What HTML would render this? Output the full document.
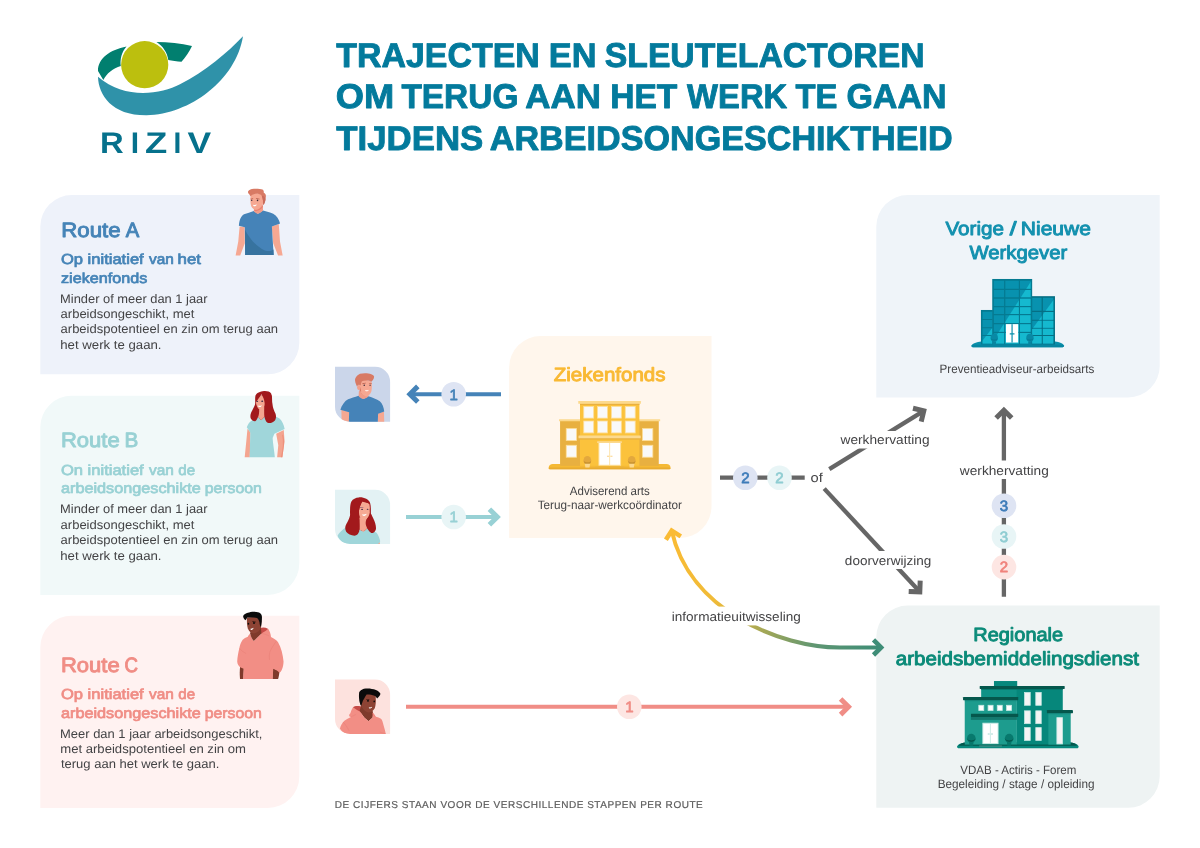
<!DOCTYPE html>
<html lang="nl">
<head>
<meta charset="utf-8">
<title>Trajecten en sleutelactoren om terug aan het werk te gaan tijdens arbeidsongeschiktheid</title>
<style>
html,body{margin:0;padding:0;background:#fff;}
body{width:1200px;height:848px;overflow:hidden;}
svg{display:block;font-family:'Liberation Sans',sans-serif;will-change:transform;text-rendering:geometricPrecision;}
text{white-space:pre;}
</style>
</head>
<body>
<svg width="1200" height="848" viewBox="0 0 1200 848">
<rect width="1200" height="848" fill="#ffffff"/>
<!-- logo -->
<g id="logo">
<path d="M98,76.7 C98.5,95 112,115.5 146.5,115.3 C190,114.5 236,80 243,36.3 C228,52 205,72 180,84.2 C160,94.5 124,99.5 98,76.7 Z" fill="#2f92a9"/>
<path d="M98,71 C98,58 110,50 126.5,46.5 C121.5,52 119.8,60 120.8,66 C113,68.5 106.5,73.5 103.3,80 Z" fill="#017f6f"/>
<path d="M156.5,42 C168,42 181,43.3 192,46 C189,52 185.5,57.5 181.5,61.8 C177,61.5 172,60.7 168.3,60 C167.5,53 163,46 156.5,42 Z" fill="#017f6f"/>
<circle cx="144.7" cy="64.7" r="23.6" fill="#bcbf0e"/>
</g>

<text y="153" font-size="29.8" font-weight="bold" fill="#06718c"><tspan x="99.97" textLength="23.7" lengthAdjust="spacingAndGlyphs">R</tspan><tspan x="130.75" textLength="8.33" lengthAdjust="spacingAndGlyphs">I</tspan><tspan x="145.09" textLength="22.25" lengthAdjust="spacingAndGlyphs">Z</tspan><tspan x="173.38" textLength="7.78" lengthAdjust="spacingAndGlyphs">I</tspan><tspan x="187.52" textLength="23.65" lengthAdjust="spacingAndGlyphs">V</tspan></text>
<g font-weight="bold" fill="#037a9c" stroke="#037a9c" stroke-width="0.9" stroke-linejoin="round">
<text y="67" font-size="34.3"><tspan x="336.21" textLength="203.62" lengthAdjust="spacingAndGlyphs">TRAJECTEN</tspan> <tspan x="548.72" textLength="47.74" lengthAdjust="spacingAndGlyphs">EN</tspan> <tspan x="604.81" textLength="319.71" lengthAdjust="spacingAndGlyphs">SLEUTELACTOREN</tspan></text>
<text y="108" font-size="34.3"><tspan x="335.7" textLength="58.44" lengthAdjust="spacingAndGlyphs">OM</tspan> <tspan x="401.42" textLength="116.97" lengthAdjust="spacingAndGlyphs">TERUG</tspan> <tspan x="525.25" textLength="75.64" lengthAdjust="spacingAndGlyphs">AAN</tspan> <tspan x="610.17" textLength="67.18" lengthAdjust="spacingAndGlyphs">HET</tspan> <tspan x="687.05" textLength="100.24" lengthAdjust="spacingAndGlyphs">WERK</tspan> <tspan x="795.52" textLength="41.94" lengthAdjust="spacingAndGlyphs">TE</tspan> <tspan x="846.39" textLength="100.15" lengthAdjust="spacingAndGlyphs">GAAN</tspan></text>
<text y="150" font-size="34.3"><tspan x="336.2" textLength="147.14" lengthAdjust="spacingAndGlyphs">TIJDENS</tspan> <tspan x="489.77" textLength="462.85" lengthAdjust="spacingAndGlyphs">ARBEIDSONGESCHIKTHEID</tspan></text>
</g>
<!-- route cards -->
<path d="M71.8,195 H299.3 V342.8 A31.5,31.5 0 0 1 267.8,374.3 H40.3 V226.5 A31.5,31.5 0 0 1 71.8,195 Z" fill="#eef2fa"/>
<path d="M71.8,395.7 H299.3 V563.5 A31.5,31.5 0 0 1 267.8,595 H40.3 V427.2 A31.5,31.5 0 0 1 71.8,395.7 Z" fill="#f1f9f9"/>
<path d="M71.8,615.7 H299.3 V776.5 A31.5,31.5 0 0 1 267.8,808 H40.3 V647.2 A31.5,31.5 0 0 1 71.8,615.7 Z" fill="#fff2f1"/>
<g fill="#4584b7" stroke="#4584b7" stroke-width="0.95" stroke-linejoin="round" stroke-linecap="round"><text y="237" font-size="20.7"><tspan x="61.3" textLength="59.34" lengthAdjust="spacingAndGlyphs">Route</tspan> <tspan x="125.67" textLength="13.49" lengthAdjust="spacingAndGlyphs">A</tspan></text></g>
<g fill="#4584b7" stroke="#4584b7" stroke-width="0.7" stroke-linejoin="round" stroke-linecap="round"><text y="264" font-size="14.5"><tspan x="60.91" textLength="82.81" lengthAdjust="spacingAndGlyphs">Op initiatief</tspan> <tspan x="149.05" textLength="24.84" lengthAdjust="spacingAndGlyphs">van</tspan> <tspan x="177.55" textLength="23.44" lengthAdjust="spacingAndGlyphs">het</tspan></text><text y="283" font-size="14.5"><tspan x="61" textLength="86.21" lengthAdjust="spacingAndGlyphs">ziekenfonds</tspan></text></g>
<g fill="#434345"><text x="60.07" y="303" font-size="12.5" textLength="147.5" lengthAdjust="spacingAndGlyphs">Minder of meer dan 1 jaar</text><text x="60.58" y="318" font-size="12.5" textLength="133.76" lengthAdjust="spacingAndGlyphs">arbeidsongeschikt, met</text><text x="60.58" y="333" font-size="12.5" textLength="217.51" lengthAdjust="spacingAndGlyphs">arbeidspotentieel en zin om terug aan</text><text x="60.24" y="349" font-size="12.5" textLength="101.32" lengthAdjust="spacingAndGlyphs">het werk te gaan.</text></g>
<g fill="#98d1d4" stroke="#98d1d4" stroke-width="0.95" stroke-linejoin="round" stroke-linecap="round"><text y="447" font-size="20.7"><tspan x="60.91" textLength="58.72" lengthAdjust="spacingAndGlyphs">Route</tspan> <tspan x="124.42" textLength="13.78" lengthAdjust="spacingAndGlyphs">B</tspan></text></g>
<g fill="#98d1d4" stroke="#98d1d4" stroke-width="0.7" stroke-linejoin="round" stroke-linecap="round"><text y="475" font-size="14.5"><tspan x="60.91" textLength="82.81" lengthAdjust="spacingAndGlyphs">On initiatief</tspan> <tspan x="149.05" textLength="24.84" lengthAdjust="spacingAndGlyphs">van</tspan> <tspan x="178.24" textLength="16.83" lengthAdjust="spacingAndGlyphs">de</tspan></text><text y="493" font-size="14.5"><tspan x="61" textLength="139.82" lengthAdjust="spacingAndGlyphs">arbeidsongeschikte</tspan> <tspan x="204.7" textLength="57.22" lengthAdjust="spacingAndGlyphs">persoon</tspan></text></g>
<g fill="#434345"><text x="60.07" y="513" font-size="12.5" textLength="147.5" lengthAdjust="spacingAndGlyphs">Minder of meer dan 1 jaar</text><text x="60.58" y="529" font-size="12.5" textLength="133.76" lengthAdjust="spacingAndGlyphs">arbeidsongeschikt, met</text><text x="60.58" y="544" font-size="12.5" textLength="217.51" lengthAdjust="spacingAndGlyphs">arbeidspotentieel en zin om terug aan</text><text x="60.24" y="560" font-size="12.5" textLength="101.32" lengthAdjust="spacingAndGlyphs">het werk te gaan.</text></g>
<g fill="#f08d85" stroke="#f08d85" stroke-width="0.95" stroke-linejoin="round" stroke-linecap="round"><text y="672" font-size="20.7"><tspan x="60.91" textLength="58.72" lengthAdjust="spacingAndGlyphs">Route</tspan> <tspan x="124.54" textLength="13.48" lengthAdjust="spacingAndGlyphs">C</tspan></text></g>
<g fill="#f08d85" stroke="#f08d85" stroke-width="0.7" stroke-linejoin="round" stroke-linecap="round"><text y="699" font-size="14.5"><tspan x="60.91" textLength="82.81" lengthAdjust="spacingAndGlyphs">Op initiatief</tspan> <tspan x="149.05" textLength="24.84" lengthAdjust="spacingAndGlyphs">van</tspan> <tspan x="178.24" textLength="16.83" lengthAdjust="spacingAndGlyphs">de</tspan></text><text y="718" font-size="14.5"><tspan x="61" textLength="139.82" lengthAdjust="spacingAndGlyphs">arbeidsongeschikte</tspan> <tspan x="204.7" textLength="57.22" lengthAdjust="spacingAndGlyphs">persoon</tspan></text></g>
<g fill="#434345"><text x="60.06" y="738" font-size="12.5" textLength="202.37" lengthAdjust="spacingAndGlyphs">Meer dan 1 jaar arbeidsongeschikt,</text><text x="60.25" y="753" font-size="12.5" textLength="185.68" lengthAdjust="spacingAndGlyphs">met arbeidspotentieel en zin om</text><text x="60.9" y="768" font-size="12.5" textLength="158.44" lengthAdjust="spacingAndGlyphs">terug aan het werk te gaan.</text></g>
<!-- persons -->
<g id="personA" transform="translate(225,185) scale(0.08844)">
<path d="M165,468 L222,476 L224,660 L172,797 L120,797 L150,640 Z" fill="#f6a892"/>
<path d="M528,468 L608,440 L622,640 L652,797 L600,797 L545,660 Z" fill="#f6a892"/>
<path d="M325,293 C290,305 250,318 215,332 C180,350 162,400 157,462 L224,478 L228,792 L550,792 L530,470 L623,436 C610,385 585,345 545,325 C510,310 470,300 430,288 L372,325 Z" fill="#4583b8"/>
<path d="M226,505 C280,610 360,700 450,740 C500,755 530,745 548,730 L550,792 L228,792 Z" fill="#37739f"/>
<path d="M330,262 L325,293 C340,312 355,322 372,325 C395,318 415,303 430,288 L428,215 Z" fill="#f09c88"/>
<path d="M335,272 C360,290 385,280 428,228 L428,250 C400,285 370,300 330,290 Z" fill="#e9806f"/>
<path d="M290,118 C285,150 286,185 290,215 C295,250 315,275 340,280 C375,282 405,250 425,215 C440,200 445,180 436,168 L425,110 L340,90 Z" fill="#f6a892"/>
<path d="M262,70 C275,55 290,48 305,46 C345,40 395,42 430,55 C440,70 440,80 438,88 C455,95 465,110 462,130 C460,160 452,200 436,226 C430,215 428,195 430,178 C425,160 422,140 415,120 C400,105 380,100 355,100 C330,100 310,108 288,128 C282,115 275,105 268,100 C260,92 258,80 262,70 Z" fill="#d87a64"/>
<path d="M415,120 C440,125 455,140 458,165 C455,190 448,210 436,226 C430,215 428,195 430,178 C428,160 422,140 415,120 Z" fill="#c96b5b"/>
<ellipse cx="302" cy="173" rx="8" ry="9" fill="#3a2a35"/>
<ellipse cx="368" cy="173" rx="9" ry="10" fill="#3a2a35"/>
<path d="M288,155 L318,150 L318,157 L290,162 Z" fill="#b9604f"/>
<path d="M350,148 L392,156 L390,164 L350,156 Z" fill="#b9604f"/>
<path d="M316,222 C330,226 345,226 360,220 C355,238 335,245 322,238 Z" fill="#ffffff"/>
</g>

<g id="personB" transform="translate(230,385) scale(0.08844)">
<path d="M198,495 L232,535 L224,817 L166,817 L184,640 Z" fill="#f4a590"/>
<path d="M522,552 L608,508 L617,640 L592,817 L533,817 L546,680 Z" fill="#f4a590"/>
<path d="M600,560 C612,600 615,640 610,680 L592,817 L575,817 C600,720 605,640 590,565 Z" fill="#ee917c"/>
<path d="M300,120 L470,120 L490,400 L260,400 Z" fill="#a2191c"/>
<path d="M318,360 C280,385 240,400 222,420 C205,440 195,460 190,478 L230,540 L222,817 L507,817 C500,740 485,660 482,600 L502,550 L618,498 C608,450 590,405 560,380 C540,365 515,355 500,350 L400,350 L352,398 Z" fill="#a0d6da"/>
<path d="M328,280 L318,360 L352,398 L395,352 L390,250 Z" fill="#f4a590"/>
<path d="M295,125 C288,160 288,200 296,235 C305,265 325,285 348,285 C375,280 395,250 400,200 L395,120 Z" fill="#f4a590"/>
<path d="M385,68 C340,72 300,90 288,120 C282,150 285,180 288,205 C280,230 268,255 250,290 C232,320 225,350 235,380 C245,400 265,412 285,410 C300,400 312,380 320,350 C330,320 332,295 328,275 C305,255 295,225 294,195 C310,170 335,140 355,105 C375,130 390,170 392,210 C390,260 385,300 388,345 C392,385 405,415 425,428 C450,435 480,430 505,405 C520,385 525,355 515,325 C500,290 480,250 477,200 C475,160 478,120 465,95 C450,75 420,66 385,68 Z" fill="#a2191c"/>
<ellipse cx="308" cy="185" rx="10" ry="7" fill="#3a2a45"/>
<ellipse cx="364" cy="183" rx="11" ry="8" fill="#3a2a45"/>
<path d="M315,232 C330,236 345,235 360,228 C355,248 335,252 322,246 Z" fill="#ffffff"/>
</g>

<g id="personC" transform="translate(225,605) scale(0.08844)">
<path d="M172,690 L215,700 L208,837 L170,837 C165,790 165,740 172,690 Z" fill="#7f3a2b"/>
<path d="M540,712 L615,745 C615,780 608,810 600,837 L535,837 Z" fill="#7f3a2b"/>
<path d="M398,262 C420,252 455,252 485,268 L500,330 L410,330 Z" fill="#c54a47"/>
<path d="M285,320 C270,340 262,350 258,360 C235,370 215,380 200,392 C180,420 168,455 162,490 C150,540 140,590 138,640 C140,670 155,695 178,708 L210,720 L205,837 L540,837 L545,720 C570,728 595,742 614,765 C640,760 660,700 662,640 C655,560 635,480 600,420 C585,400 555,380 520,362 C518,330 505,290 487,268 C470,285 440,305 412,322 L325,408 C305,385 290,355 285,320 Z" fill="#f28e85"/>
<path d="M165,490 C185,515 210,535 238,548 M580,410 C550,450 525,490 508,530 C500,560 500,590 503,620 M412,322 C440,325 470,335 500,350" fill="none" stroke="#e67a72" stroke-width="5"/>
<path d="M288,305 L285,320 C290,355 305,385 325,408 L412,322 L405,240 Z" fill="#7f3a2b"/>
<path d="M250,140 C245,180 248,230 258,265 C268,295 295,318 325,322 C360,318 395,295 408,255 L412,180 L370,130 Z" fill="#8d4334"/>
<path d="M205,125 C215,105 235,95 258,88 C290,75 340,70 385,85 C405,95 418,110 418,135 C418,170 415,215 405,250 C398,240 392,220 390,195 C385,175 375,160 362,148 C330,140 290,138 252,142 C245,155 238,168 230,172 C215,160 205,145 205,125 Z" fill="#0b0b0b"/>
<ellipse cx="265" cy="212" rx="9" ry="11" fill="#0b0b0b"/>
<ellipse cx="328" cy="203" rx="11" ry="11" fill="#0b0b0b"/>
<path d="M310,180 L350,190 L348,198 L308,188 Z" fill="#3a1a14"/>
<path d="M288,268 C300,268 312,264 322,258 C322,275 305,288 292,282 Z" fill="#ffffff"/>
</g>

<!-- avatar tiles -->
<clipPath id="clipA"><path d="M335,366.8 H375.1 A15,15 0 0 1 390.1,381.8 V421.7 H350 A15,15 0 0 1 335,406.7 Z"/></clipPath><path d="M335,366.8 H375.1 A15,15 0 0 1 390.1,381.8 V421.7 H350 A15,15 0 0 1 335,406.7 Z" fill="#cbd6ea"/>
<g clip-path="url(#clipA)"><g id="avatarA" transform="translate(330,360) scale(0.07783)">
<path d="M146,640 L246,668 L243,800 L150,800 Z" fill="#f6a892"/>
<path d="M616,688 L693,662 L697,800 L614,800 Z" fill="#f6a892"/>
<path d="M366,460 C320,478 270,490 232,505 C185,530 150,585 133,640 L246,672 L242,800 L614,800 L618,692 L697,662 C690,610 675,560 640,530 C600,500 545,485 494,466 L430,500 Z" fill="#4583b8"/>
<path d="M372,395 L368,462 C385,485 405,498 430,500 C455,495 478,482 494,466 L485,440 Z" fill="#f09c88"/>
<path d="M395,420 C420,450 450,470 490,462 L486,440 C450,450 420,440 400,410 Z" fill="#e9806f"/>
<path d="M385,275 C378,300 362,320 362,345 C362,370 372,385 385,392 C400,430 430,465 465,468 C495,465 520,435 532,400 C540,360 540,320 534,280 L450,250 Z" fill="#f6a892"/>
<ellipse cx="368" cy="352" rx="20" ry="32" fill="#f3a08b"/>
<path d="M322,245 C335,215 355,190 385,178 C430,165 490,168 530,182 C550,188 565,200 567,215 C565,240 550,262 530,278 C515,268 495,262 470,262 C445,262 425,265 410,272 C402,288 396,308 394,328 C388,318 378,315 368,318 C358,322 350,330 346,340 C332,310 318,275 322,245 Z" fill="#d87a64"/>
<path d="M380,395 C385,385 390,365 392,345 L400,410 Z" fill="#d87a64"/>
<ellipse cx="440" cy="325" rx="10" ry="9" fill="#3a2a35"/>
<ellipse cx="515" cy="325" rx="8" ry="9" fill="#3a2a35"/>
<path d="M415,300 L460,292 L462,300 L418,310 Z" fill="#b9604f"/>
<path d="M500,295 L535,300 L535,308 L500,303 Z" fill="#b9604f"/>
<path d="M450,385 C465,390 482,390 498,382 C495,400 470,408 456,398 Z" fill="#ffffff"/>
</g></g>

<clipPath id="clipB"><path d="M335,489.8 H375.1 A15,15 0 0 1 390.1,504.8 V544 H350 A15,15 0 0 1 335,529 Z"/></clipPath><path d="M335,489.8 H375.1 A15,15 0 0 1 390.1,504.8 V544 H350 A15,15 0 0 1 335,529 Z" fill="#e3f2f4"/>
<g clip-path="url(#clipB)"><g id="avatarB" transform="translate(330,484) scale(0.07783)">
<path d="M300,220 L500,220 L560,600 L230,620 Z" fill="#a2191c"/>
<path d="M200,560 C160,590 120,625 98,662 C105,700 140,745 200,772 L632,772 L645,735 C640,700 622,655 598,625 L480,570 L430,612 L378,585 Z" fill="#a0d6da"/>
<path d="M615,772 L640,750 L640,772 Z" fill="#f4a590"/>
<path d="M376,430 L378,585 L430,612 L480,570 L470,430 Z" fill="#f4a590"/>
<path d="M410,225 C390,270 375,310 372,350 C370,400 385,440 410,458 C430,470 455,462 475,445 C500,420 512,380 514,340 C516,300 512,270 505,250 Z" fill="#f6a993"/>
<path d="M370,172 C330,175 295,190 275,225 C258,260 256,320 258,400 C250,440 230,480 210,515 C192,545 190,580 208,612 C230,640 270,660 315,665 C345,662 365,640 375,610 C382,570 380,520 378,460 C372,420 370,380 372,345 C378,300 395,260 418,222 C450,225 480,240 505,258 C512,280 514,300 510,325 C508,345 512,365 522,385 C510,410 495,435 472,450 C458,470 455,500 462,530 C475,570 495,605 530,630 C555,632 580,615 590,580 C595,540 580,490 555,440 C540,405 528,385 522,365 C528,320 525,275 515,240 C495,200 440,168 370,172 Z" fill="#a2191c"/>
<ellipse cx="412" cy="325" rx="13" ry="8" fill="#3a2a45"/>
<ellipse cx="483" cy="325" rx="11" ry="7" fill="#3a2a45"/>
<path d="M385,300 L430,298 L430,306 L386,308 Z" fill="#5b3a6b" opacity="0.7"/>
<path d="M410,388 C430,394 450,392 470,382 C468,405 440,418 420,405 Z" fill="#ffffff"/>
</g></g>

<clipPath id="clipC"><path d="M335,679.5 H375.1 A15,15 0 0 1 390.1,694.5 V733.9 H350 A15,15 0 0 1 335,718.9 Z"/></clipPath><path d="M335,679.5 H375.1 A15,15 0 0 1 390.1,694.5 V733.9 H350 A15,15 0 0 1 335,718.9 Z" fill="#fde2de"/>
<g clip-path="url(#clipC)"><g id="avatarC" transform="translate(330,674) scale(0.07783)">
<path d="M295,428 C315,412 350,406 400,418 L420,500 L320,490 Z" fill="#c54a47"/>
<path d="M515,480 L550,495 L570,545 L520,540 Z" fill="#c54a47"/>
<path d="M400,400 L380,480 L440,560 L495,608 L548,560 L550,480 Z" fill="#7f3a2b"/>
<path d="M296,426 C280,450 268,480 262,505 C250,515 245,525 246,535 C250,545 258,550 270,552 C240,565 210,580 185,600 C155,630 135,665 128,700 C140,730 175,758 225,775 L718,775 C712,740 700,700 688,660 C680,620 670,590 655,575 C635,562 612,555 590,550 C580,530 565,510 548,497 L548,560 L495,608 L440,560 L385,482 C360,468 325,450 296,426 Z" fill="#f28e85"/>
<path d="M270,552 C290,540 310,530 335,520 M170,620 C200,650 225,690 245,730 M640,745 C665,755 690,762 715,768 M548,505 C560,520 572,535 580,550" fill="none" stroke="#e67a72" stroke-width="5"/>
<path d="M440,235 C420,290 400,320 392,350 C388,380 392,400 400,412 C420,450 450,482 490,495 C525,495 555,475 575,440 C588,400 592,350 588,310 L585,240 Z" fill="#8d4334"/>
<path d="M375,235 C385,215 405,200 435,190 C480,180 540,185 590,205 C620,218 640,235 648,255 C645,275 630,295 605,315 C598,300 588,288 572,280 C540,268 500,262 470,264 C458,280 448,298 440,315 C428,330 418,350 412,375 C408,390 404,400 400,408 C388,390 380,365 376,340 C372,305 370,265 375,235 Z" fill="#0b0b0b"/>
<ellipse cx="488" cy="345" rx="13" ry="12" fill="#0b0b0b"/>
<ellipse cx="568" cy="352" rx="10" ry="12" fill="#0b0b0b"/>
<path d="M462,320 L505,325 L505,333 L462,328 Z" fill="#3a1a14"/>
<path d="M498,428 C512,432 526,430 540,422 C540,440 520,448 505,442 Z" fill="#ffffff"/>
</g></g>

<!-- actor cards -->
<path d="M540.6,336.1 H711.5 V506.5 A31.5,31.5 0 0 1 680,538 H509.1 V367.6 A31.5,31.5 0 0 1 540.6,336.1 Z" fill="#fff6ec"/>
<path d="M907.8,195.1 H1159.7 V366 A31.5,31.5 0 0 1 1128.2,397.5 H876.3 V226.6 A31.5,31.5 0 0 1 907.8,195.1 Z" fill="#eff4f9"/>
<path d="M907.8,605.5 H1159.7 V776.3 A31.5,31.5 0 0 1 1128.2,807.8 H876.3 V637 A31.5,31.5 0 0 1 907.8,605.5 Z" fill="#eef3f3"/>
<!-- arrows -->
<defs><linearGradient id="gInfo" gradientUnits="userSpaceOnUse" x1="672" y1="528" x2="884" y2="647"><stop offset="0" stop-color="#fabb34"/><stop offset="0.3" stop-color="#f0bb38"/><stop offset="0.75" stop-color="#5f9672"/><stop offset="1" stop-color="#3b8c76"/></linearGradient></defs>
<g fill="none" stroke-width="4">
<path d="M501,394.2 H409.9" stroke="#4583b8"/><path d="M417.8,402.0 L409.9,394.2 L417.8,386.4" stroke="#4583b8" stroke-width="5" stroke-miterlimit="10"/>
<path d="M406,517 H497.3" stroke="#98d1d5"/><path d="M489.4,509.2 L497.3,517.0 L489.4,524.8" stroke="#98d1d5" stroke-width="5" stroke-miterlimit="10"/>
<path d="M406,706.8 H848.5" stroke="#f08d86"/><path d="M840.6,699.0 L848.5,706.8 L840.6,714.6" stroke="#f08d86" stroke-width="5" stroke-miterlimit="10"/>
<path d="M720,477.7 H804.7" stroke="#666666" stroke-width="4.3"/>
<path d="M829.3,469.1 L923.8,410.9" stroke="#666666" stroke-width="4.3"/><path d="M913.0,408.3 L923.8,410.9 L921.2,421.7" stroke="#666666" stroke-width="5" stroke-miterlimit="10"/>
<path d="M824.2,488.6 L919.8,591.8" stroke="#666666" stroke-width="4.3"/><path d="M920.2,580.7 L919.8,591.8 L908.7,591.4" stroke="#666666" stroke-width="5" stroke-miterlimit="10"/>
<path d="M1003.9,596.7 V410.2" stroke="#666666" stroke-width="4.3"/><path d="M996.1,418.1 L1003.9,410.2 L1011.7,418.1" stroke="#666666" stroke-width="5" stroke-miterlimit="10"/>
<path d="M671.7,530.6 C689.2,610.7 780.3,647.4 840,647.5 L881,647.4" stroke="url(#gInfo)"/><path d="M665.9,539.7 L671.7,530.6 L680.8,536.4" stroke="#fabb34" stroke-width="4.6" stroke-miterlimit="10"/>
<path d="M873.5,639.8 L881.1,647.4 L873.5,655.0" stroke="#3e8d77" stroke-width="4.6" stroke-miterlimit="10"/>
</g>
<g fill="#ffffff">
<rect x="838" y="431" width="93" height="17.5"/>
<rect x="843" y="551" width="90" height="18"/>
<rect x="957" y="460.5" width="94" height="18.5"/>
<rect x="669.5" y="606.6" width="133" height="18.8"/>
</g>

<circle cx="453.7" cy="394.2" r="12.3" fill="#dee4f3"/><text x="453.7" y="400" font-size="15" text-anchor="middle" fill="#4583b8" stroke="#4583b8" stroke-width="0.75" stroke-linejoin="round">1</text>
<circle cx="453.7" cy="517" r="12.3" fill="#e8f5f6"/><text x="453.7" y="522" font-size="15" text-anchor="middle" fill="#98d1d5" stroke="#98d1d5" stroke-width="0.75" stroke-linejoin="round">1</text>
<circle cx="629.3" cy="706.8" r="12.3" fill="#fde6e3"/><text x="629.3" y="712" font-size="15" text-anchor="middle" fill="#f08d86" stroke="#f08d86" stroke-width="0.75" stroke-linejoin="round">1</text>
<circle cx="745.3" cy="477.7" r="12.3" fill="#dee4f3"/><text x="745.3" y="483" font-size="15" text-anchor="middle" fill="#3e7cb9" stroke="#3e7cb9" stroke-width="0.75" stroke-linejoin="round">2</text>
<circle cx="779.5" cy="477.7" r="12.3" fill="#e8f5f6"/><text x="779.5" y="483" font-size="15" text-anchor="middle" fill="#8fcdd2" stroke="#8fcdd2" stroke-width="0.75" stroke-linejoin="round">2</text>
<circle cx="1004" cy="505.8" r="12.3" fill="#dee4f3"/><text x="1004" y="511" font-size="15" text-anchor="middle" fill="#3e7cb9" stroke="#3e7cb9" stroke-width="0.75" stroke-linejoin="round">3</text>
<circle cx="1004" cy="536.5" r="12.3" fill="#e8f5f6"/><text x="1004" y="542" font-size="15" text-anchor="middle" fill="#8fcdd2" stroke="#8fcdd2" stroke-width="0.75" stroke-linejoin="round">3</text>
<circle cx="1004" cy="567.1" r="12.3" fill="#fde6e3"/><text x="1004" y="572" font-size="15" text-anchor="middle" fill="#f0837c" stroke="#f0837c" stroke-width="0.75" stroke-linejoin="round">2</text>
<!-- labels -->
<g fill="#434345"><text x="810.61" y="482" font-size="12.9" textLength="12.26" lengthAdjust="spacingAndGlyphs">of</text><text x="840.57" y="444" font-size="12.9" textLength="88.97" lengthAdjust="spacingAndGlyphs">werkhervatting</text><text x="844.86" y="565" font-size="12.9" textLength="86.47" lengthAdjust="spacingAndGlyphs">doorverwijzing</text><text x="959.87" y="475" font-size="12.9" textLength="88.97" lengthAdjust="spacingAndGlyphs">werkhervatting</text><text x="671.72" y="621" font-size="12.9" textLength="129.11" lengthAdjust="spacingAndGlyphs">informatieuitwisseling</text></g>
<g fill="#f9b934" stroke="#f9b934" stroke-width="0.95" stroke-linejoin="round" stroke-linecap="round"><text x="553.76" y="381" font-size="19.1" textLength="111.78" lengthAdjust="spacingAndGlyphs">Ziekenfonds</text></g>
<g fill="#1491af" stroke="#1491af" stroke-width="0.95" stroke-linejoin="round" stroke-linecap="round"><text y="235" font-size="19.1"><tspan x="945.48" textLength="58.6" lengthAdjust="spacingAndGlyphs">Vorige</tspan> <tspan x="1009.88" textLength="6.8" lengthAdjust="spacingAndGlyphs">/</tspan> <tspan x="1020.79" textLength="70.1" lengthAdjust="spacingAndGlyphs">Nieuwe</tspan></text><text x="969.48" y="259" font-size="19.1" textLength="97.81" lengthAdjust="spacingAndGlyphs">Werkgever</text></g>
<g fill="#0c8b79" stroke="#0c8b79" stroke-width="0.95" stroke-linejoin="round" stroke-linecap="round"><text x="973.28" y="641" font-size="19.1" textLength="89.87" lengthAdjust="spacingAndGlyphs">Regionale</text><text x="895.85" y="665" font-size="19.1" textLength="243.03" lengthAdjust="spacingAndGlyphs">arbeidsbemiddelingsdienst</text></g>
<g fill="#434345"><text x="569.8" y="495" font-size="12.1" textLength="80" lengthAdjust="spacingAndGlyphs">Adviserend arts</text><text x="537.67" y="509" font-size="12.1" textLength="144.19" lengthAdjust="spacingAndGlyphs">Terug-naar-werkcoördinator</text><text x="939.57" y="373" font-size="12.1" textLength="154.64" lengthAdjust="spacingAndGlyphs">Preventieadviseur-arbeidsarts</text><text x="960.3" y="774" font-size="12.1" textLength="116.02" lengthAdjust="spacingAndGlyphs">VDAB - Actiris - Forem</text><text x="937.66" y="788" font-size="12.1" textLength="156.86" lengthAdjust="spacingAndGlyphs">Begeleiding / stage / opleiding</text></g>
<!-- buildings -->
<g id="bldgZ" transform="translate(540,395) scale(0.116667)">
<path d="M110,592 H1085 C1105,592 1118,605 1118,620 V628 C1118,633 1114,636 1108,636 H85 C79,636 75,633 75,628 V620 C75,605 90,592 110,592 Z" fill="#f5b935"/>
<rect x="75" y="622" width="1043" height="14" rx="6" fill="#e8ab30"/>
<rect x="172" y="222" width="175" height="385" fill="#e8b040"/>
<rect x="848" y="222" width="170" height="385" fill="#e8b040"/>
<rect x="163" y="207" width="184" height="19" rx="3" fill="#fcd98d"/>
<rect x="848" y="207" width="182" height="19" rx="3" fill="#fcd98d"/>
<rect x="343" y="70" width="509" height="537" fill="#fbc23c"/>
<rect x="343" y="74" width="509" height="12" fill="#e9b040"/>
<rect x="328" y="52" width="537" height="23" rx="3" fill="#fcd98d"/>
<rect x="343" y="368" width="509" height="14" fill="#e9b040"/>
<rect x="330" y="348" width="533" height="23" rx="3" fill="#fcd98d"/>
<g fill="#f9f9f9" stroke="#fddf9c" stroke-width="7">
<rect x="375" y="98" width="85" height="100"/><rect x="493" y="98" width="85" height="100"/><rect x="612" y="98" width="85" height="100"/><rect x="731" y="98" width="85" height="100"/>
<rect x="375" y="223" width="85" height="102"/><rect x="493" y="223" width="85" height="102"/><rect x="612" y="223" width="85" height="102"/><rect x="731" y="223" width="85" height="102"/>
<rect x="225" y="288" width="88" height="102"/><rect x="225" y="431" width="88" height="102"/>
<rect x="879" y="288" width="88" height="102"/><rect x="879" y="431" width="88" height="102"/>
</g>
<rect x="505" y="405" width="186" height="197" fill="#ffffff" stroke="#fddf9c" stroke-width="8"/>
<rect x="489" y="397" width="214" height="14" rx="3" fill="#fcd98d"/>
<rect x="594" y="411" width="7" height="190" fill="#fddf9c"/>
<rect x="574" y="521" width="18" height="7" fill="#fbc96a"/><rect x="603" y="521" width="18" height="7" fill="#fbc96a"/>
<rect x="478" y="612" width="240" height="12" fill="#e9b040" opacity="0.6"/>
<ellipse cx="406" cy="560" rx="33" ry="38" fill="#e3a83d"/>
<path d="M374,565 C380,590 395,598 406,598 C425,598 436,585 439,565 C425,580 395,582 374,565 Z" fill="#c99230"/>
<path d="M383,590 H430 L424,622 H389 Z" fill="#fcd98d"/>
<ellipse cx="786" cy="560" rx="33" ry="38" fill="#e3a83d"/>
<path d="M754,565 C760,590 775,598 786,598 C805,598 816,585 819,565 C805,580 775,582 754,565 Z" fill="#c99230"/>
<path d="M763,590 H810 L804,622 H769 Z" fill="#fcd98d"/>
</g>

<g id="bldgW" transform="translate(963,273) scale(0.09197)">
<path d="M90,792 C100,770 150,750 200,746 H1000 C1050,750 1090,770 1100,792 C1100,800 1095,806 1085,806 H105 C95,806 90,800 90,792 Z" fill="#0a8fab"/>
<rect x="95" y="780" width="1000" height="26" rx="12" fill="#0785a0"/>
<rect x="195" y="402" width="130" height="375" fill="#057a91"/>
<rect x="745" y="252" width="255" height="525" fill="#056f84"/>
<rect x="318" y="65" width="434" height="712" fill="#057a91"/>
<clipPath id="wPanels"><rect x="335" y="82" width="112" height="90"/><rect x="335" y="185" width="112" height="80"/><rect x="335" y="280" width="112" height="78"/><rect x="335" y="372" width="112" height="75"/><rect x="335" y="460" width="112" height="83"/><rect x="335" y="556" width="112" height="84"/><rect x="335" y="652" width="112" height="118"/><rect x="460" y="82" width="147" height="90"/><rect x="460" y="185" width="147" height="80"/><rect x="460" y="280" width="147" height="78"/><rect x="460" y="372" width="147" height="75"/><rect x="460" y="460" width="147" height="83"/><rect x="460" y="556" width="147" height="84"/><rect x="460" y="652" width="147" height="118"/><rect x="620" y="82" width="115" height="90"/><rect x="620" y="185" width="115" height="80"/><rect x="620" y="280" width="115" height="78"/><rect x="620" y="372" width="115" height="75"/><rect x="620" y="460" width="115" height="83"/><rect x="620" y="556" width="115" height="84"/><rect x="620" y="652" width="115" height="118"/><rect x="752" y="270" width="103" height="140"/><rect x="752" y="424" width="103" height="84"/><rect x="752" y="520" width="103" height="75"/><rect x="752" y="606" width="103" height="69"/><rect x="752" y="686" width="103" height="84"/><rect x="868" y="270" width="117" height="140"/><rect x="868" y="424" width="117" height="84"/><rect x="868" y="520" width="117" height="75"/><rect x="868" y="606" width="117" height="69"/><rect x="868" y="686" width="117" height="84"/><rect x="210" y="420" width="108" height="80"/><rect x="210" y="512" width="108" height="78"/><rect x="210" y="600" width="108" height="75"/><rect x="210" y="686" width="108" height="84"/></clipPath>
<g clip-path="url(#wPanels)">
<rect x="190" y="60" width="820" height="720" fill="#0892af"/>
<path d="M740,90 L740,780 L300,780 Z" fill="#15b9cf"/>
<path d="M990,285 L990,780 L745,780 L745,620 Z" fill="#15b9cf"/>
<path d="M320,595 L320,780 L205,780 L205,745 Z" fill="#15b9cf"/>
</g>
<rect x="467" y="556" width="133" height="200" fill="#ffffff"/>
<rect x="527" y="556" width="13" height="200" fill="#0a8fab"/>
<rect x="508" y="656" width="52" height="14" rx="3" fill="#0a8fab"/>
<path d="M320,745 H360 L356,785 H324 Z" fill="#0785a0"/>
<ellipse cx="340" cy="705" rx="40" ry="44" fill="#0989a5"/>
<path d="M300,710 C310,745 370,745 380,710 C360,728 320,728 300,710 Z" fill="#067b94"/>
<path d="M708,745 H748 L744,785 H712 Z" fill="#0785a0"/>
<ellipse cx="728" cy="705" rx="40" ry="44" fill="#0989a5"/>
<path d="M688,710 C698,745 758,745 768,710 C748,728 708,728 688,710 Z" fill="#067b94"/>
</g>

<g id="bldgR" transform="translate(950,674) scale(0.113333)">
<path d="M62,640 C70,620 100,606 135,604 H1065 C1100,606 1128,620 1135,640 C1135,650 1130,656 1120,656 H78 C68,656 62,650 62,640 Z" fill="#07887c"/>
<path d="M75,632 C90,615 110,606 135,604 H1065 C1090,606 1110,615 1124,632 Z" fill="#05574c"/>
<rect x="388" y="62" width="205" height="50" fill="#07887c"/>
<rect x="275" y="128" width="320" height="100" fill="#0f9286"/>
<rect x="588" y="128" width="407" height="495" fill="#06877b"/>
<rect x="262" y="105" width="750" height="27" rx="4" fill="#05574c"/>
<rect x="275" y="132" width="720" height="8" fill="#057266" opacity="0.8"/>
<rect x="130" y="228" width="460" height="395" fill="#1d9c8e"/>
<rect x="115" y="203" width="487" height="29" rx="4" fill="#05574c"/>
<rect x="130" y="232" width="460" height="8" fill="#14857a" opacity="0.8"/>
<g fill="#ffffff" stroke="#c7e9e4" stroke-width="7">
<rect x="254" y="276" width="44" height="46"/><rect x="336" y="276" width="44" height="46"/><rect x="417" y="276" width="44" height="46"/><rect x="499" y="276" width="44" height="46"/>
</g>
<rect x="185" y="378" width="405" height="27" fill="#14796e"/>
<rect x="185" y="350" width="417" height="29" rx="3" fill="#05574c"/>
<rect x="290" y="434" width="134" height="180" fill="#ffffff" stroke="#c7e9e4" stroke-width="8"/>
<rect x="352" y="438" width="8" height="174" fill="#c7e9e4"/>
<rect x="333" y="526" width="17" height="7" fill="#8fd0c8"/><rect x="362" y="526" width="17" height="7" fill="#8fd0c8"/>
<rect x="258" y="628" width="200" height="18" fill="#3f8f84" opacity="0.7"/>
<g fill="#f4f4f4" stroke="#c7e9e4" stroke-width="7">
<rect x="658" y="163" width="50" height="113"/><rect x="757" y="163" width="48" height="113"/>
<rect x="658" y="325" width="50" height="113"/><rect x="757" y="325" width="48" height="113"/>
<rect x="658" y="473" width="50" height="113"/><rect x="757" y="473" width="48" height="113"/>
</g>
<rect x="868" y="345" width="197" height="278" fill="#1d9c8e"/>
<rect x="855" y="318" width="230" height="29" rx="4" fill="#05574c"/>
<rect x="868" y="347" width="197" height="8" fill="#14857a" opacity="0.8"/>
<rect x="943" y="385" width="50" height="232" fill="#f4f4f4" stroke="#c7e9e4" stroke-width="7"/>
<path d="M168,600 H208 L204,634 H172 Z" fill="#06776b"/>
<ellipse cx="188" cy="568" rx="38" ry="40" fill="#08796d"/>
<path d="M150,572 C158,605 218,605 226,572 C210,592 166,592 150,572 Z" fill="#045449"/>
<path d="M502,600 H542 L538,634 H506 Z" fill="#06776b"/>
<ellipse cx="522" cy="568" rx="38" ry="40" fill="#08796d"/>
<path d="M484,572 C492,605 552,605 560,572 C544,592 500,592 484,572 Z" fill="#045449"/>
</g>

<text x="334.83" y="808" font-size="10" fill="#5c5c5c" stroke="#5c5c5c" stroke-width="0.2" textLength="367.93" lengthAdjust="spacing">DE CIJFERS STAAN VOOR DE VERSCHILLENDE STAPPEN PER ROUTE</text>
</svg>
</body>
</html>
